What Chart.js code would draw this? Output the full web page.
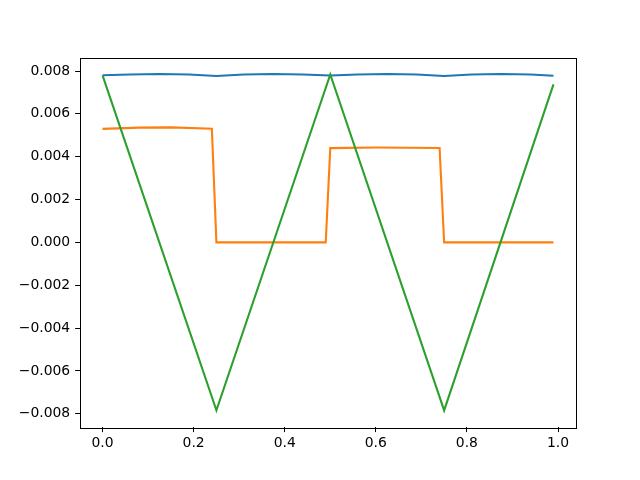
<!DOCTYPE html>
<html>
<head>
<meta charset="utf-8">
<script src="https://cdn.jsdelivr.net/npm/chart.js@4.4.0/dist/chart.umd.min.js"></script>
<style>
  html, body { margin: 0; padding: 0; background: #ffffff; }
  #wrap { width: 640px; height: 480px; }
</style>
</head>
<body>
<div id="wrap"><canvas id="chart" width="640" height="480"></canvas></div>
<script>
// values
var blueX = [0, 0.06, 0.125, 0.19, 0.25, 0.31, 0.375, 0.44, 0.5, 0.56, 0.625, 0.69, 0.75, 0.81, 0.875, 0.94, 0.99];
var blueY = [0.00780, 0.00784, 0.00786, 0.00784, 0.00777, 0.00784, 0.00786, 0.00784, 0.00779, 0.00784, 0.00786, 0.00784, 0.00777, 0.00784, 0.00786, 0.00784, 0.00778];

var orangeX = [0, 0.08, 0.15, 0.24, 0.25, 0.49, 0.5, 0.6, 0.74, 0.75, 0.99];
var orangeY = [0.00530, 0.00536, 0.00537, 0.00531, 0, 0, 0.00440, 0.00443, 0.00441, 0, 0];

var greenX = [0, 0.25, 0.5, 0.75, 0.99];
var greenY = [0.00780, -0.00784, 0.00784, -0.00784, 0.00738];

var xTicks = [0, 0.2, 0.4, 0.6, 0.8, 1.0];
var yTicks = [-0.008, -0.006, -0.004, -0.002, 0, 0.002, 0.004, 0.006, 0.008];

function toPoints(xs, ys) {
    return xs.map(function (x, i) {
        return { x: x, y: ys[i] };
    });
}

function fixTicks(values) {
    return function (scale) {
        scale.ticks = values.map(function (v) {
            return { value: v };
        });
    };
}

// matplotlib draws all four spines
var frame = {
    id: "frame",
    afterDatasetsDraw: function (chart) {
        var a = chart.chartArea;
        var ctx = chart.ctx;
        ctx.save();
        ctx.strokeStyle = "#000000";
        ctx.lineWidth = 1;
        ctx.strokeRect(Math.round(a.left) + 0.5, Math.round(a.top) + 0.5,
            Math.round(a.right - a.left), Math.round(a.bottom - a.top));
        ctx.restore();
    },
};

var font = { family: "DejaVu Sans", size: 13.9 };

var ctx = document.getElementById("chart").getContext("2d");

new Chart(ctx, {
    type: "line",
    data: {
        datasets: [
            {
                data: toPoints(blueX, blueY),
                borderColor: "#1f77b4",
                borderWidth: 2.1,
                pointRadius: 0,
                tension: 0,
                order: 2,
            },
            {
                data: toPoints(orangeX, orangeY),
                borderColor: "#ff7f0e",
                borderWidth: 2.1,
                pointRadius: 0,
                tension: 0,
                order: 1,
            },
            {
                data: toPoints(greenX, greenY),
                borderColor: "#2ca02c",
                borderWidth: 2.1,
                pointRadius: 0,
                tension: 0,
                order: 0,
            },
        ],
    },
    options: {
        responsive: false,
        animation: false,
        layout: {
            padding: { top: 57.6, right: 64, left: 0, bottom: 0 },
        },
        plugins: {
            legend: { display: false },
            tooltip: { enabled: false },
        },
        scales: {
            x: {
                type: "linear",
                min: -0.0495,
                max: 1.0395,
                afterBuildTicks: fixTicks(xTicks),
                afterFit: function (scale) {
                    scale.height = 52.8;
                },
                grid: {
                    drawOnChartArea: false,
                    drawTicks: true,
                    tickLength: 4.9,
                    color: "#000000",
                },
                border: { display: false },
                ticks: {
                    color: "#000000",
                    font: font,
                    padding: 3,
                    maxRotation: 0,
                    callback: function (v) {
                        return v.toFixed(1);
                    },
                },
            },
            y: {
                type: "linear",
                min: -0.008627,
                max: 0.008627,
                afterBuildTicks: fixTicks(yTicks),
                afterFit: function (scale) {
                    scale.width = 80;
                },
                grid: {
                    drawOnChartArea: false,
                    drawTicks: true,
                    tickLength: 4.9,
                    color: "#000000",
                },
                border: { display: false },
                ticks: {
                    color: "#000000",
                    font: font,
                    padding: 4.9,
                    callback: function (v) {
                        var s = Math.abs(v).toFixed(3);
                        return v < -1e-12 ? "\u2212" + s : s;
                    },
                },
            },
        },
    },
    plugins: [frame],
});
</script>
</body>
</html>
